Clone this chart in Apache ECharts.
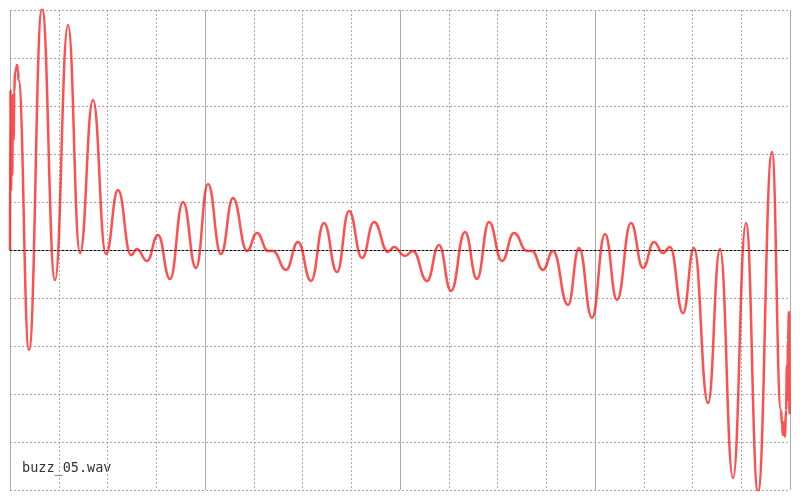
<!DOCTYPE html>
<html>
<head>
<meta charset="utf-8">
<script src="https://cdn.jsdelivr.net/npm/echarts@6/dist/echarts.min.js"></script>
<style>html,body{margin:0;padding:0;background:#fff}#c{width:800px;height:500px}</style>
</head>
<body>
<div id="c"></div>
<script>
// Sample position (0..780) of each extremum / sample point
const samples = [
  0, 0.4, 1, 1.6, 2.2, 3, 3.6, 4.3, 5, 6, 7, 8, 8.5,
  19, 32, 45, 58, 70, 83, 96, 108, 121, 127, 137, 148, 160, 173, 186, 198,
  211, 223, 237, 247, 258, 263, 276, 288, 301, 314, 327, 339, 352, 364,
  378, 384, 395, 403, 417, 429, 441, 455, 467, 479, 492, 504, 517, 522,
  533, 543, 558, 569, 582, 595, 607, 621, 633, 644, 653, 660, 673, 684,
  698, 710, 723, 736, 748, 762,
  771, 772, 773, 774, 775, 776, 777, 777.5, 778, 779, 779.5, 780
];
// Amplitude (-1..1) at each sample
const amplitude = [
  0, 0.667, 0.25, 0.625, 0.313, 0.646, 0.458, 0.658, 0.742, 0.75, 0.771, 0.75, 0.708,
  -0.417, 1.008, -0.125, 0.938, -0.013, 0.625, -0.017, 0.25, -0.021, 0.004, -0.046, 0.063, -0.121, 0.2, -0.075, 0.275,
  -0.017, 0.217, -0.004, 0.071, -0.004, -0.004, -0.083, 0.033, -0.129, 0.113, -0.092, 0.163, -0.033, 0.117,
  -0.008, 0.013, -0.025, -0.004, -0.129, 0.021, -0.171, 0.075, -0.121, 0.117, -0.046, 0.071, -0.004, -0.004,
  -0.083, -0.004, -0.229, 0.008, -0.283, 0.067, -0.208, 0.113, -0.075, 0.033, -0.013, 0.013, -0.263, 0.008,
  -0.638, 0.004, -0.95, 0.113, -1.008, 0.408,
  -0.667, -0.729, -0.771, -0.717, -0.779, -0.667, -0.479, -0.625, -0.375, -0.258, -0.679, -0.675
];
const fileName = 'buzz_05.wav';

const data = samples.map((s, i) => [s, amplitude[i]]);
const chart = echarts.init(document.getElementById('c'), null, {renderer: 'canvas'});
chart.setOption({
  animation: false,
  backgroundColor: '#fff',
  grid: {left: 10, right: 10, top: 10, bottom: 10, containLabel: false},
  xAxis: [
    {
      type: 'value', min: 0, max: 780, interval: 48.75,
      axisLine: {show: true, onZero: true, lineStyle: {color: '#000', type: [2, 2], width: 1.2}},
      axisTick: {show: false}, axisLabel: {show: false},
      splitLine: {show: true, lineStyle: {color: '#aaa', type: [2, 2], width: 1}}
    },
    {
      type: 'value', min: 0, max: 780, interval: 195, position: 'bottom',
      axisLine: {show: false}, axisTick: {show: false}, axisLabel: {show: false},
      splitLine: {show: true, lineStyle: {color: '#aaa', type: 'solid', width: 1}}
    }
  ],
  yAxis: {
    type: 'value', min: -1, max: 1, interval: 0.2,
    axisLine: {show: false}, axisTick: {show: false}, axisLabel: {show: false},
    splitLine: {show: true, lineStyle: {color: '#aaa', type: [2, 2], width: 1}}
  },
  series: [{
    type: 'line',
    xAxisIndex: 0,
    data: data,
    smooth: 0.47,
    smoothMonotone: 'x',
    showSymbol: false,
    clip: true,
    lineStyle: {color: 'rgba(255,20,20,0.75)', width: 2.5}
  }],
  graphic: [{
    type: 'text', left: 22, top: 461,
    style: {text: fileName, fill: '#333', font: '13.5px "DejaVu Sans Mono", monospace'}
  }]
});
</script>
</body>
</html>
